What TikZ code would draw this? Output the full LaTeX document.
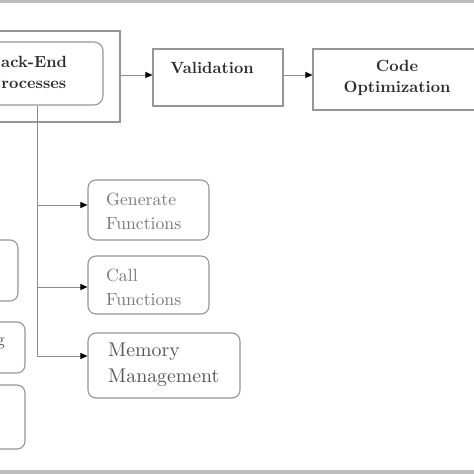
\documentclass[tikz,border=0pt]{standalone}
\usepackage{fontspec}
\usetikzlibrary{calc,arrows.meta}
\newfontfamily\lmten[Extension=.otf, BoldFont=lmroman10-bold]{lmroman10-regular}
\definecolor{lineg}{RGB}{140,140,140}
\definecolor{boxg}{RGB}{150,150,150}
\definecolor{bandg}{RGB}{190,190,190}
\definecolor{lighttxt}{RGB}{120,120,120}
\definecolor{midtxt}{RGB}{85,85,85}
\definecolor{darktxt}{RGB}{45,45,45}
\tikzset{
  sqbox/.style={draw=boxg, line width=1.1pt, rectangle, inner sep=0pt},
  rbox/.style={draw=boxg, line width=1.1pt, rectangle, rounded corners=9pt, inner sep=0pt},
  conn/.style={draw=lineg, line width=1pt},
  arr/.style={conn, -{Triangle[length=7pt,width=6pt,fill=black,color=black]}},
  head/.style={text=darktxt, font=\lmten\fontsize{16.2}{21}\selectfont\bfseries, align=center, inner sep=0pt},
  lighttext/.style={text=lighttxt, font=\lmten\fontsize{17.7}{23.5}\selectfont, align=left, inner sep=0pt},
  memtext/.style={text=midtxt, font=\lmten\fontsize{19.8}{26}\selectfont, align=left, inner sep=0pt}
}
\begin{document}
\begin{tikzpicture}[x=1pt,y=-1pt]
\useasboundingbox (0,0) rectangle (474,474);
\clip (0,0) rectangle (474,474);
\fill[white] (0,0) rectangle (474,474);
\fill[bandg] (0,0) rectangle (474,2.5);
\fill[bandg] (0,470) rectangle (474,474);
% top row
\node[sqbox, minimum width=180pt, minimum height=91pt] (outer) at (30,76.5) {};
\node[rbox, minimum width=148pt, minimum height=63pt] (inner) at (29,73.5) {};
\node[head] (innert) at (27.5,72) {Back-End\\Processes};
\node[sqbox, minimum width=130pt, minimum height=57pt] (val) at (218,77.5) {};
\node[head, anchor=base] (valt) at (212,73) {Validation};
\node[sqbox, minimum width=177pt, minimum height=61pt] (code) at (401.5,79.5) {};
\node[head] (codet) at (397,78) {Code\\Optimization};
% right column boxes
\node[rbox, rounded corners=8pt, minimum width=121pt, minimum height=60pt] (gen) at (148.5,210) {};
\node[lighttext, anchor=north west] (gent) at (106,193) {Generate\\Functions};
\node[rbox, rounded corners=8pt, minimum width=121pt, minimum height=58pt] (call) at (148.5,285) {};
\node[lighttext, anchor=north west] (callt) at (106,269) {Call\\Functions};
\node[rbox, rounded corners=8pt, minimum width=152pt, minimum height=65pt] (mem) at (164,365.5) {};
\node[memtext, anchor=north west] (memt) at (108,343) {Memory\\Management};
% left, cut boxes
\node[rbox, rounded corners=8pt, minimum width=78pt, minimum height=61pt] (l1) at (-21,270.5) {};
\node[rbox, rounded corners=8pt, minimum width=85pt, minimum height=51pt] (l2) at (-17.5,347.5) {};
\node[text=midtxt, font=\lmten\fontsize{17.5}{21}\selectfont, anchor=base east, inner sep=0pt] (l2t) at (5,345) {g};
\node[rbox, rounded corners=8pt, minimum width=85pt, minimum height=64pt] (l3) at (-17.5,417) {};
% connectors
\draw[arr] ($(outer.east)+(0,-1.5)$) -- ($(outer.east -| val.west)+(0,-1.5)$);
\draw[arr] ($(val.east |- outer.east)+(0,-1.5)$) -- ($(code.west |- outer.east)+(0,-1.5)$);
\coordinate (t0) at ($(inner.south)+(8,0)$);
\coordinate (g1) at ($(gen.west)+(0,-5)$);
\coordinate (c1) at ($(call.west)+(0,2)$);
\coordinate (m1) at ($(mem.west)+(0,-9.5)$);
\draw[conn] (t0) -- (t0 |- m1);
\draw[arr] (t0 |- g1) -- (g1);
\draw[arr] (t0 |- c1) -- (c1);
\draw[arr] (t0 |- m1) -- (m1);
\end{tikzpicture}
\end{document}
